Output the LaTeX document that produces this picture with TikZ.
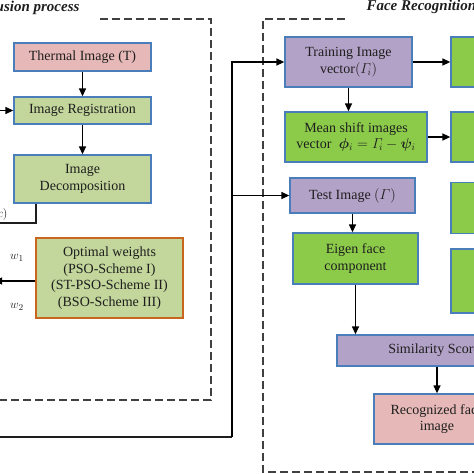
\documentclass[tikz,border=0pt]{standalone}
\usepackage[no-math]{fontspec}
\setmainfont{Liberation Serif}
\usepackage{amsmath}
\usepackage{bm}
\usetikzlibrary{arrows.meta,positioning}

\definecolor{boxblue}{HTML}{4A7EBB}
\definecolor{pinkfill}{HTML}{E6B9B8}
\definecolor{palegreen}{HTML}{C3D69B}
\definecolor{brightgreen}{HTML}{8CCB4A}
\definecolor{lavender}{HTML}{B3A2C7}
\definecolor{weightorange}{HTML}{C8661E}
\definecolor{framegray}{HTML}{404040}
\definecolor{inkgray}{HTML}{1E1E1E}

\tikzset{
    blk/.style = {draw = boxblue, line width = 1.3pt, align = center,
        inner sep = 1pt, text = inkgray,
        font = \fontsize{14}{16.5}\selectfont},
    pinkblk/.style = {blk, fill = pinkfill},
    paleblk/.style = {blk, fill = palegreen},
    greenblk/.style = {blk, fill = brightgreen},
    purpleblk/.style = {blk, fill = lavender},
    arr/.style = {-{Triangle[length=8pt,width=7pt]}, line width = 1.3pt, draw = black},
    wire/.style = {line width = 1.2pt, draw = inkgray},
    frame/.style = {dash pattern = on 8pt off 4pt, line width = 1.4pt, draw = framegray},
    ttl/.style = {font = \fontsize{15}{17}\selectfont\bfseries\itshape, text = inkgray},
    lbl/.style = {font = \fontsize{13}{15}\selectfont, text = inkgray}
}

\begin{document}
\begin{tikzpicture}[x = 1pt, y = -1pt]
\useasboundingbox (0,0) rectangle (474,474);
\clip (0,0) rectangle (474,474);

% titles
\node [ttl, anchor = base east] (fustitle) at (83,11) {Fusion process};
\node [ttl, anchor = base west] (rectitle) at (363,10) {Face Recognition};

% dashed frames
\draw [frame] (100,19) -- (211,19) -- (211,400) -- (-5,400);
\draw [frame] (345,19) -- (263,19) -- (263,472) -- (480,472);

% fusion side
\node [pinkblk, minimum width = 137pt, minimum height = 28pt] (thermal) at (82.5,57) {Thermal Image (T)};
\node [paleblk, minimum width = 137pt, minimum height = 27pt] (registr) at (82.5,110.5) {Image Registration};
\node [paleblk, minimum width = 137pt, minimum height = 48pt] (decomp) at (82.5,179) {Image\\Decomposition};
\node [paleblk, draw = weightorange, line width = 1.8pt,
       minimum width = 147pt, minimum height = 80pt] (optweights) at (109.5,278)
      {Optimal weights\\(PSO-Scheme I)\\(ST-PSO-Scheme II)\\(BSO-Scheme III)};

\coordinate (visin) at (0,110.5);
\coordinate (decout) at (36,223);
\coordinate (decend) at (0,223);
\coordinate (wout) at (-6,281);

\draw [arr] (thermal) -- (registr);
\draw [arr] (registr) -- (decomp);
\draw [arr] (visin) -- (registr);
\draw [wire] (decomp.south -| decout) -- (decout) -- (decend);
\draw [arr] (optweights.west |- wout) -- (wout);

\node [lbl, anchor = east] (clbl) at (11,214) {$(c)$};
\node [lbl] (wone) at (17,258) {$w_1$};
\node [lbl] (wtwo) at (17,307) {$w_2$};

% face recognition side
\node [purpleblk, minimum width = 127pt, minimum height = 50pt] (train) at (348.5,62)
      {Training Image\\vector$\left(\varGamma_{\!i}\right)$};
\node [greenblk, minimum width = 142pt, minimum height = 50pt] (meanshift) at (356,137)
      {Mean shift images\\vector\; $\bm{\phi}_i=\varGamma_{\!i}-\bm{\psi}_i$};
\node [purpleblk, minimum width = 125pt, minimum height = 35pt] (testimg) at (352.5,195.5)
      {Test Image $\left(\varGamma\right)$};
\node [greenblk, minimum width = 125pt, minimum height = 51pt] (eigen) at (355.5,258.5)
      {Eigen face\\component};

\node [greenblk, minimum width = 110pt, minimum height = 50pt] (rone) at (506,62) {};
\node [greenblk, minimum width = 110pt, minimum height = 50pt] (rtwo) at (506,137) {};
\node [greenblk, minimum width = 110pt, minimum height = 51pt] (rthree) at (506,208) {};
\node [greenblk, minimum width = 110pt, minimum height = 64pt] (rfour) at (506,281) {};

\node [purpleblk, minimum width = 194pt, minimum height = 31pt] (simscore) at (434,350.5)
      {Similarity Score};
\node [pinkblk, minimum width = 126pt, minimum height = 50pt] (recog) at (437,419)
      {Recognized face\\image};

\draw [arr] (train) -- (rone);
\draw [arr] (meanshift) -- (rtwo);
\draw [arr] (train.south) -- (train.south |- meanshift.north);
\draw [arr] (testimg.south) -- (testimg.south |- eigen.north);
\draw [arr] (eigen.south) -- (eigen.south |- simscore.north);
\draw [arr] (simscore.south -| recog.north) -- (recog.north);

% fused image routed to both branches
\coordinate (fused) at (0,437);
\coordinate (jn) at (232,437);
\draw [wire] (fused) -- (jn);
\draw [arr] (jn) |- (train.west);
\draw [arr] (jn |- testimg.west) -- (testimg.west);

\end{tikzpicture}
\end{document}
